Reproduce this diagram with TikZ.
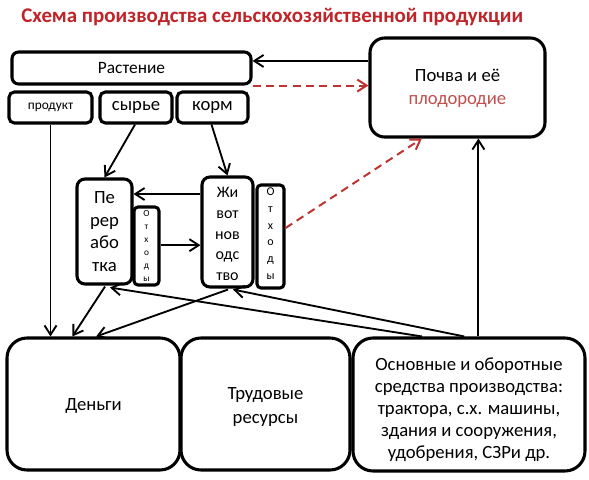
\documentclass[tikz,border=0pt]{standalone}
\usepackage{fontspec}
\setmainfont{Carlito}
\usetikzlibrary{arrows.meta,fit,calc}
\definecolor{titlered}{RGB}{192,36,40}
\definecolor{soilred}{RGB}{192,80,77}
\definecolor{dashred}{RGB}{190,52,50}
\begin{document}
\begin{tikzpicture}[x=0.75pt,y=-0.75pt,
  box/.style={draw=black, line width=2.3pt, inner sep=0pt, align=center, text=black},
  conn/.style={draw=black, line width=1.4pt, -{Straight Barb[length=7pt,width=9pt,line width=1.4pt]}},
  dconn/.style={draw=dashred, line width=1.5pt, dash pattern=on 6pt off 4pt, -{Straight Barb[length=7pt,width=9pt,line width=1.5pt]}},
  fA/.style={font=\fontsize{14}{17}\selectfont}]
\useasboundingbox (0,0) rectangle (589,479);
% title
\node[anchor=west, inner sep=0pt, text=titlered, font=\fontsize{15.7}{18}\selectfont\bfseries] (title) at (21,17) {Схема производства сельскохозяйственной продукции};
% top boxes
\node[box, rounded corners=5pt, fit={(12,52) (251,84)}] (rast) {};
\node[font=\fontsize{13}{15}\selectfont, inner sep=0pt] (rastt) at (rast.center) {Растение};
\node[box, rounded corners=4pt, fit={(9,92) (92,123)}] (prod) {};
\node[font=\fontsize{10}{12}\selectfont, inner sep=0pt] (prodt) at (prod.center) {продукт};
\node[box, rounded corners=4pt, fit={(100,92) (172,123)}] (syr) {};
\node[fA, inner sep=0pt] (syrt) at (syr.center) {сырье};
\node[box, rounded corners=4pt, fit={(177,92) (248,123)}] (korm) {};
\node[fA, inner sep=0pt] (kormt) at (korm.center) {корм};
\node[box, rounded corners=11pt, fit={(370,38) (545,137)}] (poch) {};
\node[fA, inner sep=0pt, align=center] (pocht) at ($(poch.center)+(0,1)$) {Почва и её\\\textcolor{soilred}{плодородие}};
% middle boxes
\node[box, rounded corners=6pt, fit={(77,179) (132,284)}] (per) {};
\node[fA, inner sep=0pt, align=center] (pert) at (per.center) {Пе\\рер\\або\\тка};
\node[box, rounded corners=3pt, fit={(134,207) (159,285)}] (otx1) {};
\node[font=\fontsize{7}{9.8}\selectfont, inner sep=0pt, align=center] (otx1t) at (otx1.center) {О\\т\\х\\о\\д\\ы};
\node[box, rounded corners=6pt, fit={(202,177) (253,287)}] (ziv) {};
\node[font=\fontsize{12}{15.5}\selectfont, inner sep=0pt, align=center] (zivt) at ($(ziv.center)+(0,2)$) {Жи\\вот\\нов\\одс\\тво};
\node[box, rounded corners=3pt, fit={(257,185) (284,288)}] (otx2) {};
\node[font=\fontsize{9}{12.5}\selectfont, inner sep=0pt, align=center] (otx2t) at ($(otx2.center)+(0,-3)$) {О\\т\\х\\о\\д\\ы};
% bottom boxes
\node[box, rounded corners=15pt, fit={(7,338) (180,470)}] (den) {};
\node[fA, inner sep=0pt] (dent) at ($(den.center)+(0,2)$) {Деньги};
\node[box, rounded corners=15pt, fit={(181,338) (350,470)}] (trud) {};
\node[font=\fontsize{14}{17.5}\selectfont, inner sep=0pt, align=center] (trudt) at ($(trud.center)+(0,3)$) {Трудовые\\ресурсы};
\node[box, rounded corners=15pt, fit={(353,338) (585,471)}] (osn) {};
\node[font=\fontsize{14}{16.5}\selectfont, inner sep=0pt, align=center] (osnt) at ($(osn.center)+(0,5)$) {Основные и оборотные\\средства производства:\\трактора, с.х. машины,\\здания и сооружения,\\удобрения, СЗРи др.};
% connector end points
\coordinate (pochA) at ($(poch.north west)!0.24!(poch.south west)$);
\coordinate (osnUp) at ($(osn.north west)!0.54!(osn.north east)$);
\coordinate (zivL) at ($(ziv.north west)!0.164!(ziv.south west)$);
\coordinate (otx1R) at ($(otx1.north east)!0.49!(otx1.south east)$);
% connectors
\draw[conn] (pochA) -- (rast.east |- pochA);
\draw[dconn] (rast.south east) -- (poch.west |- rast.south east);
\draw[conn] (prod.south) -- (prod.south |- den.north);
\draw[conn] ($(syr.south)+(-1,0)$) -- (per.north);
\draw[conn] ($(korm.south)+(-1,0)$) -- (ziv.north);
\draw[conn] (zivL) -- (per.east |- zivL);
\draw[conn] (otx1R) -- (ziv.west |- otx1R);
\draw[dconn] ($(otx2.north east)!0.42!(otx2.south east)$) -- ($(poch.south west)!0.30!(poch.south east)$);
\draw[conn] (osnUp) -- (osnUp |- poch.south);
\draw[conn] ($(per.south)+(0.5,1)$) -- ($(den.north west)!0.38!(den.north east)$);
\draw[conn] ($(ziv.south)+(0.5,1)$) -- ($(den.north west)!0.515!(den.north east)$);
\draw[conn] ($(osn.north west)!0.30!(osn.north east)$) -- ($(per.south)+(5.5,2)$);
\draw[conn] ($(osn.north west)!0.48!(osn.north east)$) -- ($(ziv.south)+(5.5,1)$);
\end{tikzpicture}
\end{document}
